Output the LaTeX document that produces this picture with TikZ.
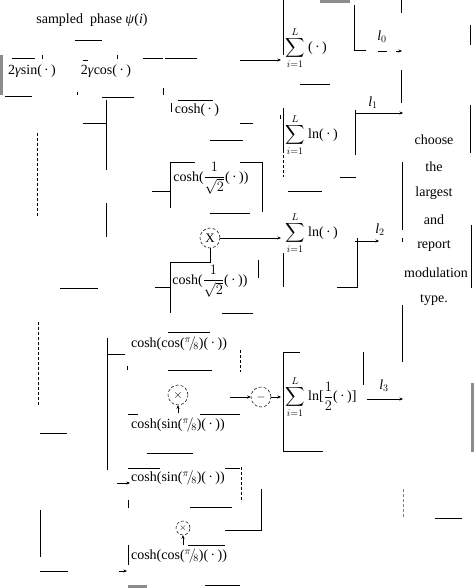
\documentclass[tikz,border=0pt]{standalone}
\usepackage{fontspec}
\usepackage{graphicx}
\setmainfont{Liberation Serif}
\usetikzlibrary{arrows.meta}
\newcommand{\bigsum}{\mathop{\vcenter{\hbox{\scalebox{1.35}{$\displaystyle\sum$}}}}\limits_{i=1}^{L}}
\begin{document}
\begin{tikzpicture}[x=1pt,y=-1pt,
  txt/.style={font=\fontsize{14}{16}\selectfont, inner sep=0pt},
  frag/.style={line width=0.7pt},
  faint/.style={line width=0.6pt, densely dashed},
  gbar/.style={line width=3pt, black!45},
  mult/.style={circle, draw, densely dashed, line width=0.5pt, minimum size=20pt, inner sep=0pt, font=\fontsize{13}{15}\selectfont},
  multsmall/.style={mult, minimum size=14pt, font=\fontsize{9}{10}\selectfont},
  tip/.style={-{Stealth[length=3.5pt,width=3pt]}}]
\useasboundingbox (0,0) rectangle (474,588);
% ---------- text nodes ----------
\node[txt] (title) at (92,20) {sampled\ \ phase \textit{ψ}(\textit{i})};
\node[txt] (sin) at (32,71) {2\textit{γ}sin(\,·\,)};
\node[txt] (cos) at (106,71) {2\textit{γ}cos(\,·\,)};
\node[txt] (ch0) at (197,110) {cosh(\,·\,)};
\node[txt] (ch1) at (211,178) {cosh($\displaystyle\frac{1}{\sqrt{2}}$(\,·\,))};
\node[mult] (m1) at (210,238) {X};
\node[txt] (ch2) at (210,281) {cosh($\displaystyle\frac{1}{\sqrt{2}}$(\,·\,))};
\node[txt] (cc1) at (179,344) {cosh(cos(${}^{\pi}\!/\!{}_{8}$)(\,·\,))};
\node[mult] (m2) at (178,395) {$\times$};
\node[txt] (cs1) at (178,425) {cosh(sin(${}^{\pi}\!/\!{}_{8}$)(\,·\,))};
\node[txt] (cs2) at (178,478) {cosh(sin(${}^{\pi}\!/\!{}_{8}$)(\,·\,))};
\node[multsmall] (m3) at (183,528) {$\times$};
\node[txt] (cc2) at (179,556) {cosh(cos(${}^{\pi}\!/\!{}_{8}$)(\,·\,))};
\node[txt, anchor=west] (s0) at (285,48) {$\bigsum$ (\,·\,)};
\node[txt, anchor=west] (s1) at (285,135) {$\bigsum$ ln(\,·\,)};
\node[txt, anchor=west] (s2) at (285,233) {$\bigsum$ ln(\,·\,)};
\node[txt, anchor=west] (s3) at (285,397) {$\bigsum$ ln[$\displaystyle\frac{1}{2}$(\,·\,)]};
\node[mult] (m4) at (261,397) {$-$};
\node[txt] (l0) at (382,37) {\textit{l}$_0$};
\node[txt] (l1) at (373,103) {\textit{l}$_1$};
\node[txt] (l2) at (380,230) {\textit{l}$_2$};
\node[txt] (l3) at (384,386) {\textit{l}$_3$};
\node[txt] (r1) at (434,140) {choose};
\node[txt] (r2) at (434,167) {the};
\node[txt] (r3) at (434,193) {largest};
\node[txt] (r4) at (434,220) {and};
\node[txt] (r5) at (434,246) {report};
\node[txt] (r6) at (436,273) {modulation};
\node[txt] (r7) at (434,300) {type.};
% ---------- gray bars ----------
\draw[gbar] (1.5,55) -- (1.5,95);
\draw[gbar] (320,1.5) -- (350,1.5);
\draw[gbar] (472.5,383) -- (472.5,452);
\draw[gbar] (128,586.5) -- (147,586.5);
% ---------- fragments (top) ----------
\draw[frag] (75,40) -- (102,40);
\draw[frag] (12,58) -- (35,58);
\draw[frag] (83,60) -- (88,60);
\draw[frag] (42,55) -- (42,59);
\draw[frag] (117,55) -- (117,59);
\draw[frag] (143,58) -- (163,58);
\draw[frag] (165,58) -- (197,58);
\draw[frag] (5,96) -- (32,96);
\draw[frag] (77,92) -- (77,95);
\draw[frag] (102,97) -- (134,97);
\draw[frag] (163,88) -- (163,95);
\draw[frag] (178,100) -- (213,100);
\draw[frag] (171,103) -- (171,112);
\draw[frag] (106,100) -- (106,170);
\draw[frag] (106,203) -- (106,237);
\draw[frag] (83,123) -- (106,123);
\draw[faint] (37,133) -- (37,217);
\draw[frag] (210,140) -- (243,140);
\draw[frag] (240,123) -- (253,123);
% box cosh(1/sqrt2) first
\draw[frag] (195,162) -- (170,162) -- (170,208);
\draw[frag] (152,191) -- (170,191);
\draw[frag] (240,162) -- (262,162) -- (262,212);
\draw[frag] (210,213) -- (250,213);
% sum 0
\draw[frag] (283,0) -- (283,55);
\draw[frag,tip] (240,60) -- (281,60);
\draw[frag] (354,5) -- (354,50) -- (366,50);
\draw[frag] (378,51) -- (387,51);
\draw[frag,tip] (396,51) -- (402,51);
\draw[frag] (401,0) -- (401,13);
\draw[frag] (401,70) -- (401,103);
\draw[frag] (300,84) -- (330,84);
\draw[frag] (470,25) -- (470,45);
\draw[frag] (470,105) -- (470,153);
% sum 1
\draw[frag] (283,108) -- (283,150);
\draw[faint] (283,150) -- (283,177);
\draw[frag] (280,115) -- (280,119);
\draw[frag] (355,110) -- (355,155);
\draw[frag,tip] (355,113) -- (403,113);
\draw[frag] (340,177) -- (356,177);
\draw[frag] (288,191) -- (322,191);
\draw[frag] (402,162) -- (402,230);
\draw[frag] (402,238) -- (402,242);
\draw[frag] (471,225) -- (471,288);
% multiplier X and sum 2
\draw[frag,tip] (m1.east) -- (281,238);
\draw[frag] (283,253) -- (283,287);
\draw[frag,tip] (355,241) -- (379,241);
\draw[frag] (357,238) -- (357,287) -- (337,287);
\draw[frag] (258,260) -- (258,278);
\draw[frag] (m1.south) -- (210,262) -- (170,262) -- (170,313);
\draw[frag] (155,287) -- (170,287);
\draw[frag] (60,288) -- (98,288);
\draw[frag] (222,313) -- (253,313);
% lower branch
\draw[faint] (38,322) -- (38,405);
\draw[frag] (168,332) -- (210,332);
\draw[frag] (107,338) -- (107,470);
\draw[frag] (107,354) -- (125,354);
\draw[frag] (127,366) -- (127,370);
\draw[frag] (168,370) -- (212,370);
\draw[frag,tip] (178,413) -- (m2.south);
\draw[frag,tip] (230,397) -- (m4.west);
\draw[frag,tip] (m4.east) -- (281,397);
\draw[frag] (200,414) -- (240,414);
\draw[frag] (128,414) -- (138,414);
\draw[frag] (402,305) -- (402,362);
\draw[faint] (240,350) -- (240,372);
\draw[frag] (300,352) -- (283,352) -- (283,451) -- (323,451);
\draw[frag] (363,352) -- (363,385);
\draw[frag,tip] (367,399) -- (403,399);
\draw[frag] (40,433) -- (67,433);
\draw[frag] (147,453) -- (193,453);
\draw[frag] (128,468) -- (160,468);
\draw[frag] (225,468) -- (240,468);
\draw[frag,tip] (117,483) -- (130,483);
\draw[frag] (128,500) -- (128,508);
\draw[frag] (190,507) -- (232,507);
\draw[frag] (40,510) -- (40,557);
\draw[frag,tip] (183,545) -- (m3.south);
\draw[frag] (225,530) -- (240,530);
\draw[frag] (188,545) -- (225,545);
\draw[frag] (128,545) -- (128,565);
\draw[frag] (40,571) -- (68,571);
\draw[frag,tip] (119,571) -- (127,571);
\draw[frag] (205,585) -- (240,585);
\draw[faint] (241,467) -- (241,502);
\draw[frag] (261,489) -- (261,530) -- (240,530);
\draw[faint, black!50] (403,489) -- (403,518);
\draw[frag] (435,518) -- (462,518);
\end{tikzpicture}
\end{document}
